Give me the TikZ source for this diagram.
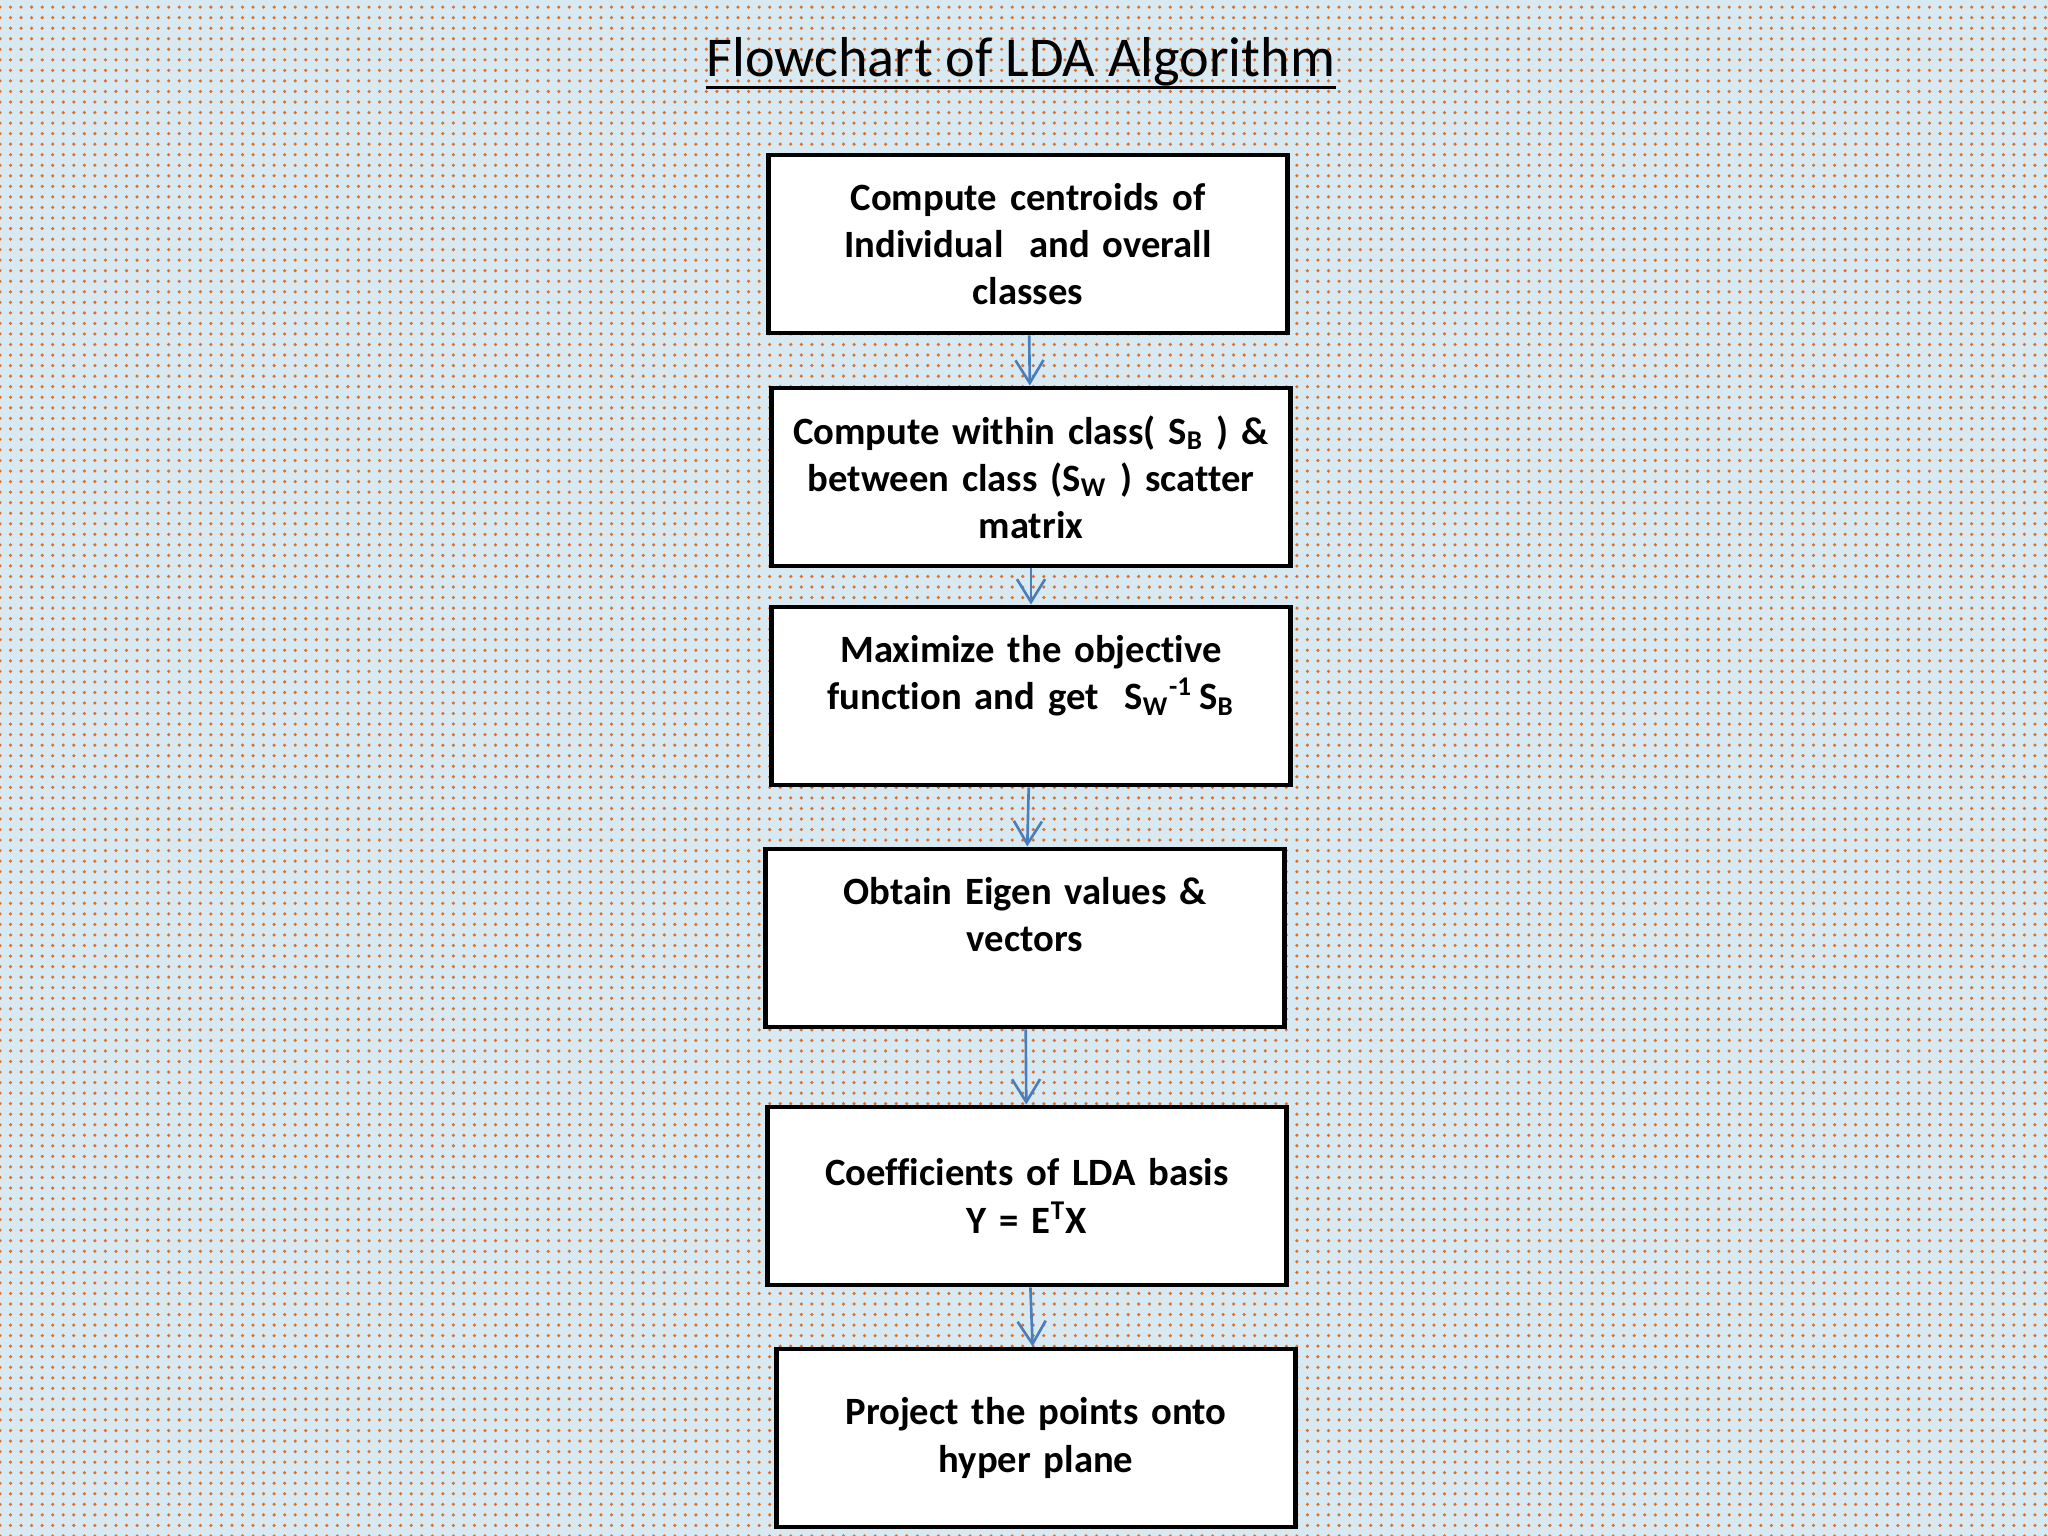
\documentclass[tikz,border=0pt]{standalone}
\usepackage{fontspec}
\setmainfont{Carlito}[Ligatures=NoCommon]
\usepackage{tikz}
\usetikzlibrary{positioning,patterns,arrows.meta}
\definecolor{bgblue}{RGB}{217,233,241}
\definecolor{dotorange}{RGB}{218,112,44}
\definecolor{flowblue}{RGB}{74,126,187}

\begin{document}
\begin{tikzpicture}
  [every node/.style={inner sep=0pt},
   box/.style={draw,line width=1.4pt,fill=white,minimum width=5.19cm,
     minimum height=1.78cm,text width=5cm,align=center,
     font=\fontsize{11}{13.4}\selectfont\bfseries},
   flow/.style={draw=flowblue,line width=0.75pt,
     -{Straight Barb[length=6.5pt,width=8pt]}}]
  \useasboundingbox (0,0) rectangle (20.48,15.36);
  % dotted slide background
  \fill[bgblue] (0,0) rectangle (20.48,15.36);
  \fill[pattern=dots,pattern color=dotorange] (0,0) rectangle (20.48,15.36);

  \node[font=\fontsize{16}{19}\selectfont,anchor=base] (title) at (10.21,14.59)
    {Flowchart of LDA Algorithm};
  \draw[line width=0.8pt] ([yshift=-3pt]title.base west) -- ([yshift=-3pt]title.base east);

  \node[box] (n1) at (10.28,12.92) {Compute centroids of\\ Individual~ and overall\\ classes};
  \node[box] (n2) at (10.31,10.59) {Compute within class( S\textsubscript{B} ) \&\\
    between class (S\textsubscript{W} ) scatter\\ matrix};
  \node[box] (n3) at (10.31,8.40) {Maximize the objective\\
    function and get~~S\textsubscript{W}\textsuperscript{-1}\,S\textsubscript{B}\\ \mbox{}};
  \node[box] (n4) at (10.25,5.98) {Obtain Eigen values \&\\ vectors\\ \mbox{}};
  \node[box] (n5) at (10.27,3.40) {Coefficients of LDA basis\\ Y = E\textsuperscript{T}X};
  \node[box] (n6) at (10.36,0.98) {Project the points onto\\ hyper plane};

  \foreach \from/\to in {n1/n2,n2/n3,n3/n4,n4/n5,n5/n6}
    \draw[flow] (\from) -- (\to);

\end{tikzpicture}
\end{document}
